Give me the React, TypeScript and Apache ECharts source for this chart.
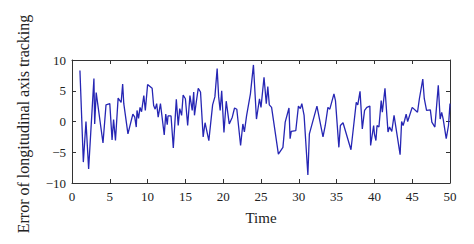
import React, { useEffect, useRef } from "react";
import * as echarts from "echarts";

const times = [
  1.05, 1.5, 1.85, 2.2, 2.9, 3.0, 3.2, 4.1, 4.5, 5.0, 5.3, 5.5, 5.75, 6.1, 6.5, 6.7, 6.85, 7.4, 8.05, 8.3,
  8.5, 8.6, 8.8, 9.0, 9.2, 9.5, 9.7, 10.0, 10.6, 10.8, 11.0, 11.2, 11.4, 11.7, 12.2, 12.4, 12.6, 12.7, 13.1, 13.4,
  13.8, 14.05, 14.25, 14.5, 14.7, 15.0, 15.3, 15.6, 15.9, 16.1, 16.2, 16.5, 16.7, 17.0, 17.35, 17.6, 18.1, 18.6, 18.9, 19.2,
  19.4, 19.6, 19.8, 20.1, 20.4, 20.8, 21.2, 21.5, 21.8, 22.3, 22.6, 22.8, 23.1, 23.6, 24.0, 24.4, 24.8, 25.0, 25.4, 25.7,
  25.9, 26.1, 26.4, 27.3, 27.9, 28.2, 28.7, 28.85, 29.0, 29.6, 29.95, 30.2, 30.4, 30.7, 31.2, 31.4, 32.4, 32.9, 33.2, 33.5,
  33.85, 34.1, 34.65, 34.85, 35.3, 35.5, 35.85, 36.9, 37.6, 37.8, 38.1, 38.4, 38.7, 39.0, 39.4, 39.5, 39.9, 40.0, 40.2, 40.35,
  40.6, 40.9, 41.05, 41.4, 41.8, 42.0, 42.3, 42.6, 43.4, 43.6, 43.8, 44.0, 44.2, 44.4, 45.0, 45.7, 45.95, 46.4, 46.6, 46.9,
  47.4, 47.6, 48.0, 48.45, 48.7, 48.9, 49.1, 49.5, 49.8, 50.0,
];

const errors = [
  8.3, -6.6, 0.0, -7.7, 7.0, -0.4, 4.7, -3.5, 2.7, 2.9, -3.0, 0.3, -3.1, 3.8, 3.1, 6.1, 2.9, -2.0, 1.2, 0.7,
  -0.9, 1.8, 0.5, 2.3, 1.6, 4.2, 1.8, 6.0, 5.4, 2.6, 2.0, 2.9, 0.7, 2.9, -2.2, 1.2, -0.5, 0.9, 0.9, -4.3,
  3.6, -0.65, 2.1, 1.0, 4.3, 3.7, -0.65, 4.2, 1.8, 4.8, 1.0, 3.7, 5.4, 4.8, -2.5, -0.2, -3.1, 2.7, 4.0, 8.6,
  4.0, 1.8, 5.0, -1.8, 3.3, -0.4, 0.7, 2.2, 2.0, -3.9, -0.4, -1.7, 1.0, 4.5, 9.2, 0.4, 3.7, 2.3, 7.2, 2.9,
  5.7, 2.7, 2.3, -5.3, -4.2, -0.1, 2.2, -2.8, -1.6, -1.5, 2.5, 2.1, 2.9, 1.0, -8.7, -2.0, 2.5, -0.65, -2.5, -0.65,
  2.3, 2.0, 4.5, 3.4, -4.2, -0.65, -0.2, -4.6, 3.1, 2.7, 4.9, -1.2, 1.8, 2.3, 2.5, -3.9, -0.65, -2.0, -3.1, -0.65,
  -0.9, 3.4, 1.5, 5.4, -1.7, -0.9, -1.6, 1.0, -5.4, 0.0, -0.65, 0.2, 1.2, 0.0, 2.3, 1.5, 3.7, 6.9, 3.7, 1.8,
  1.9, -0.1, -0.9, 5.9, 0.4, 1.5, 0.4, -2.8, -0.65, 2.9,
];

const xTitle = "Time";
const yTitle = "Error of longitudinal axis tracking";

const FONT = "Liberation Serif";
const AXIS_COLOR = "#333333";
const LINE_COLOR = "#2626b4";

export default function App() {
  const ref = useRef<HTMLDivElement>(null);

  useEffect(() => {
    if (!ref.current) return;
    const chart = echarts.init(ref.current, null, { renderer: "svg" });
    const fmt = (v: number) => String(v).replace("-", "\u2212");
    const axisLine = { show: true, onZero: false, lineStyle: { color: AXIS_COLOR, width: 1 } };
    const axisTick = { show: true, inside: true, length: 4, lineStyle: { color: AXIS_COLOR } };
    chart.setOption({
      animation: false,
      backgroundColor: "#ffffff",
      grid: { left: 64, right: 16, top: 52, bottom: 53, containLabel: false, outerBoundsMode: "none" },
      xAxis: [
        {
          type: "value",
          min: 0,
          max: 50,
          interval: 5,
          position: "bottom",
          name: xTitle,
          nameLocation: "middle",
          nameGap: 27,
          nameTextStyle: { fontFamily: FONT, fontSize: 15, color: "#222", verticalAlign: "top" },
          axisLine,
          axisTick,
          axisLabel: { fontFamily: FONT, fontSize: 13, color: "#222", margin: 7, formatter: fmt },
          splitLine: { show: false },
        },
        {
          type: "value",
          min: 0,
          max: 50,
          interval: 5,
          position: "top",
          axisLine,
          axisTick,
          axisLabel: { show: false },
          splitLine: { show: false },
        },
      ],
      yAxis: [
        {
          type: "value",
          min: -10,
          max: 10,
          interval: 5,
          position: "left",
          name: yTitle,
          nameLocation: "middle",
          nameGap: 41,
          nameTextStyle: { fontFamily: FONT, fontSize: 16, color: "#222", padding: [0, 5, 0, 0] },
          axisLine,
          axisTick,
          axisLabel: { fontFamily: FONT, fontSize: 13, color: "#222", margin: 6, formatter: fmt },
          splitLine: { show: false },
        },
        {
          type: "value",
          min: -10,
          max: 10,
          interval: 5,
          position: "right",
          axisLine,
          axisTick,
          axisLabel: { show: false },
          splitLine: { show: false },
        },
      ],
      series: [
        {
          type: "line",
          xAxisIndex: 0,
          yAxisIndex: 0,
          data: times.map((t, i) => [t, errors[i]]),
          showSymbol: false,
          symbol: "none",
          lineStyle: { color: LINE_COLOR, width: 1.3 },
        },
      ],
    });
    return () => chart.dispose();
  }, []);

  return <div ref={ref} style={{ width: 458, height: 228 }} />;
}
